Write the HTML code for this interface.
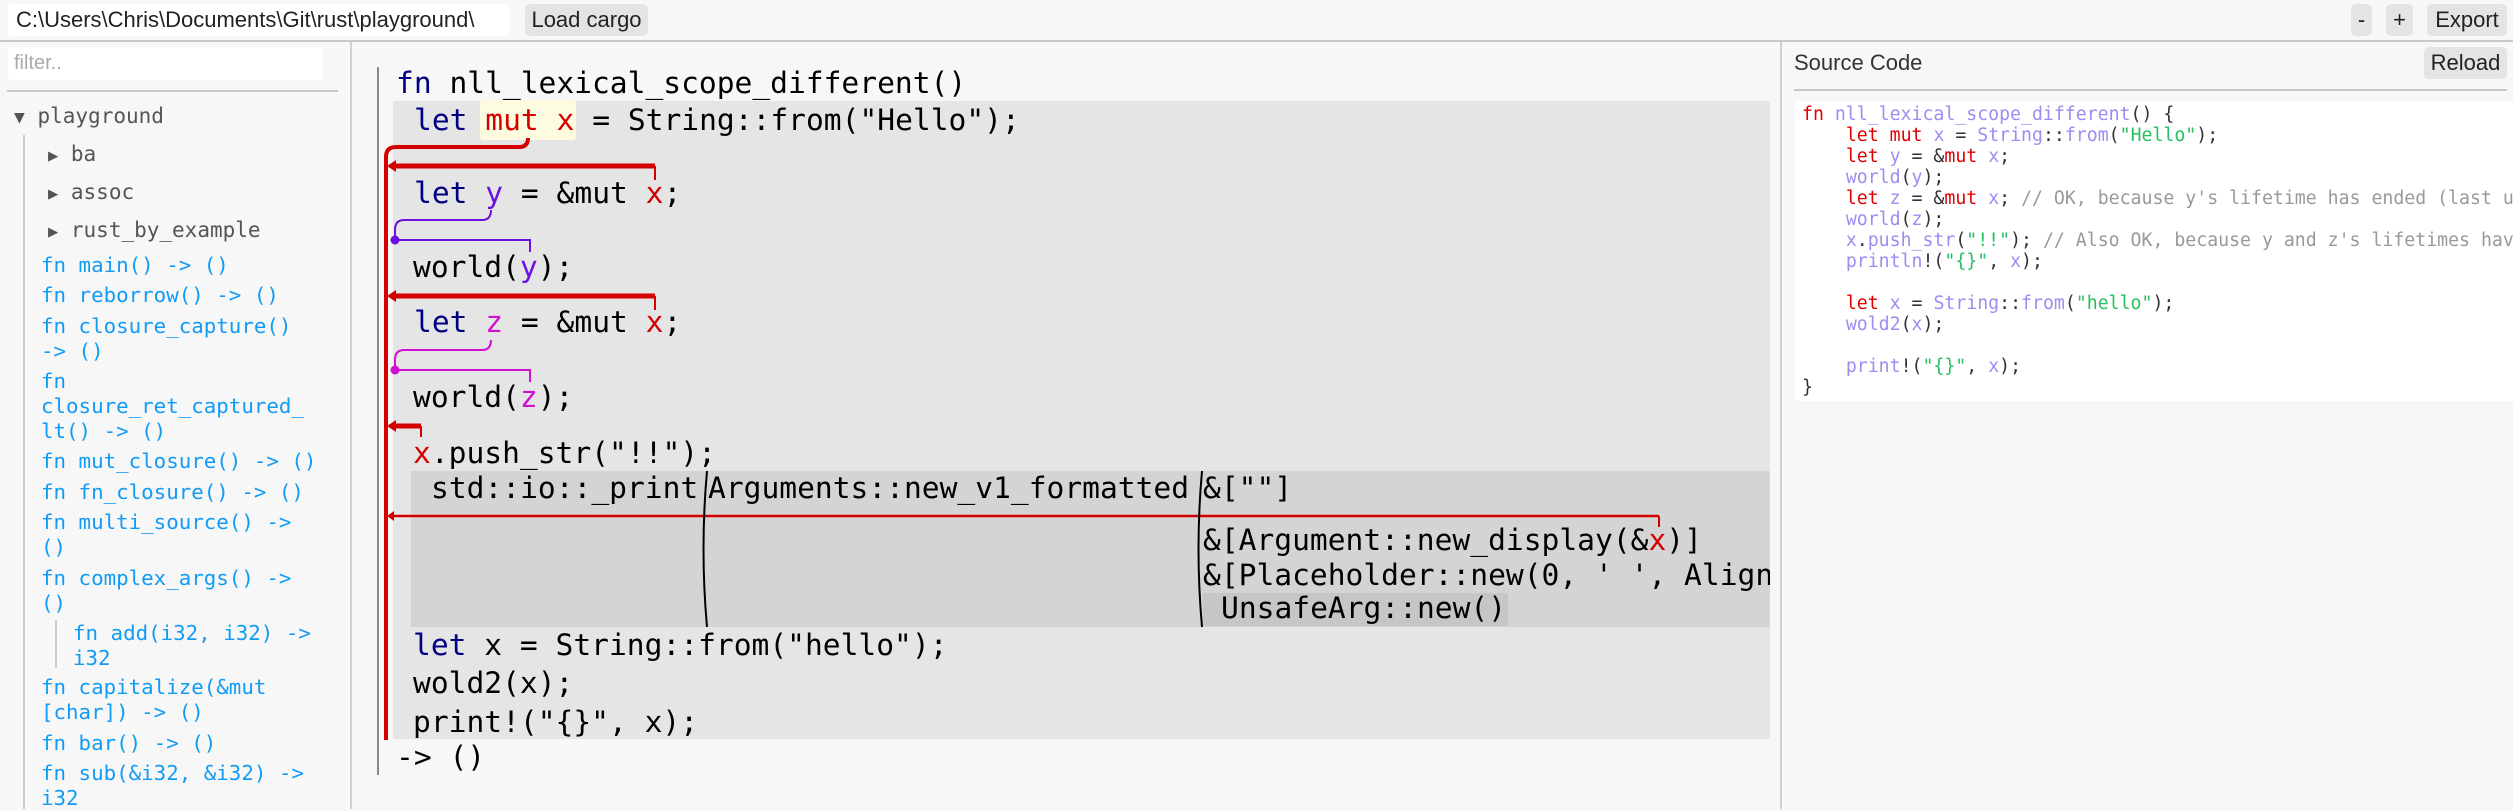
<!DOCTYPE html>
<html><head><meta charset="utf-8"><style>
*{margin:0;padding:0;box-sizing:border-box}
body{width:2513px;height:809px;overflow:hidden;background:#f7f7f7;position:relative;font-family:"Liberation Sans","DejaVu Sans",sans-serif}
.a{position:absolute;white-space:pre}
.btn{position:absolute;background:#e4e4e4;border-radius:5px;font-size:22px;color:#222;text-align:center;line-height:32px;height:32px}
.sb{position:absolute;left:41px;font-family:"DejaVu Sans Mono",monospace;font-size:20.8px;line-height:25px;color:#129bf5;white-space:pre}
.tr{position:absolute;font-family:"DejaVu Sans Mono",monospace;font-size:21px;line-height:25px;color:#555;white-space:pre}
.c{position:absolute;font-family:"DejaVu Sans Mono",monospace;font-size:29.6px;line-height:36px;height:36px;color:#000;white-space:pre}
.k{color:#000080}.r{color:#d40000}.p{color:#6a10e0}.g{color:#d010d0}
.src{position:absolute;left:1802px;font-family:"DejaVu Sans Mono",monospace;font-size:18.2px;line-height:21px;color:#333;white-space:pre}
.sk{color:#e00000}.si{color:#9d8cf2}.ss{color:#25c060}.sc{color:#999}
</style></head><body>
<div class="a" style="left:8px;top:4px;width:502px;height:32px;background:#fff;border-radius:4px;font-size:22px;line-height:32px;padding-left:8px;color:#222">C:\Users\Chris\Documents\Git\rust\playground\</div>
<div class="btn" style="left:525px;top:4px;width:123px">Load cargo</div>
<div class="btn" style="left:2351px;top:4px;width:21px">-</div>
<div class="btn" style="left:2386px;top:4px;width:27px">+</div>
<div class="btn" style="left:2427px;top:4px;width:80px">Export</div>
<div class="a" style="left:0;top:40px;width:2513px;height:2px;background:#c8c8c8"></div>

<div class="a" style="left:8px;top:47px;width:315px;height:33px;background:#fff;border-radius:4px;font-size:20px;line-height:33px;padding-left:6px;color:#aaa">filter..</div>
<div class="a" style="left:7px;top:90px;width:331px;height:2px;background:#c8c8c8"></div>
<div class="a" style="left:350px;top:42px;width:2px;height:767px;background:#d0d0d0"></div>
<div class="a" style="left:23px;top:135px;width:2px;height:674px;background:#ccc"></div>
<div class="a" style="left:55px;top:620px;width:2px;height:48px;background:#ccc"></div>
<div class="tr" style="left:14px;top:104px"><span style="font-size:18px">▼</span> playground</div>
<div class="tr" style="left:48px;top:142px"><span style="font-size:17px">▶</span> ba</div>
<div class="tr" style="left:48px;top:180px"><span style="font-size:17px">▶</span> assoc</div>
<div class="tr" style="left:48px;top:218px"><span style="font-size:17px">▶</span> rust_by_example</div>
<div class="sb" style="top:253px">fn main() -&gt; ()</div>
<div class="sb" style="top:283px">fn reborrow() -&gt; ()</div>
<div class="sb" style="top:314px">fn closure_capture()<br>-&gt; ()</div>
<div class="sb" style="top:369px">fn<br>closure_ret_captured_<br>lt() -&gt; ()</div>
<div class="sb" style="top:449px">fn mut_closure() -&gt; ()</div>
<div class="sb" style="top:480px">fn fn_closure() -&gt; ()</div>
<div class="sb" style="top:510px">fn multi_source() -&gt;<br>()</div>
<div class="sb" style="top:566px">fn complex_args() -&gt;<br>()</div>
<div class="sb" style="left:73px;top:621px">fn add(i32, i32) -&gt;<br>i32</div>
<div class="sb" style="top:675px">fn capitalize(&amp;mut<br>[char]) -&gt; ()</div>
<div class="sb" style="top:731px">fn bar() -&gt; ()</div>
<div class="sb" style="top:761px">fn sub(&amp;i32, &amp;i32) -&gt;<br>i32</div>

<div class="a" style="left:1780px;top:42px;width:2px;height:767px;background:#d0d0d0"></div>
<div class="a" style="left:377px;top:67px;width:2px;height:708px;background:#888"></div>
<div class="a" style="left:393px;top:101px;width:1377px;height:638px;background:#e5e5e5"></div>
<div class="a" style="left:411px;top:471px;width:1359px;height:156px;background:#d4d4d4"></div>
<div class="a" style="left:1203px;top:593px;width:305px;height:33px;background:#c6c6c6;border-radius:2px"></div>
<div class="a" style="left:480px;top:100px;width:96px;height:40px;background:#fdfbe0;border-radius:3px"></div>

<div class="c" style="left:396px;top:65px"><span class="k">fn</span> nll_lexical_scope_different()</div>
<div class="c" style="left:414px;top:102px"><span class="k">let</span> <span class="r">mut x</span> = String::from("Hello");</div>
<div class="c" style="left:414px;top:175px"><span class="k">let</span> <span class="p">y</span> = &amp;mut <span class="r">x</span>;</div>
<div class="c" style="left:413px;top:249px">world(<span class="p">y</span>);</div>
<div class="c" style="left:414px;top:304px"><span class="k">let</span> <span class="g">z</span> = &amp;mut <span class="r">x</span>;</div>
<div class="c" style="left:413px;top:379px">world(<span class="g">z</span>);</div>
<div class="c" style="left:413px;top:435px"><span class="r">x</span>.push_str("!!");</div>
<div class="c" style="left:431px;top:470px">std::io::_print</div>
<div class="c" style="left:708px;top:470px">Arguments::new_v1_formatted</div>
<div class="c" style="left:1203px;top:470px">&amp;[""]</div>
<div class="c" style="left:1203px;top:522px">&amp;[Argument::new_display(&amp;<span class="r">x</span>)]</div>
<div class="c" style="left:1203px;top:557px;width:567px;overflow:hidden">&amp;[Placeholder::new(0, ' ', Alignment::Unknown)]</div>
<div class="c" style="left:1221px;top:590px">UnsafeArg::new()</div>
<div class="c" style="left:413px;top:627px"><span class="k">let</span> x = String::from("hello");</div>
<div class="c" style="left:413px;top:665px">wold2(x);</div>
<div class="c" style="left:413px;top:704px">print!("{}", x);</div>
<div class="c" style="left:396px;top:739px">-&gt; ()</div>

<svg class="a" style="left:0;top:0" width="2513" height="809">
<g fill="none" stroke="#d40000">
<path d="M528,138 Q528,147 519,147 L396,147 Q386,147 386,157 L386,740" stroke-width="4"/>
<path d="M392,166 L655,166" stroke-width="5"/><path d="M655,166 L655,180" stroke-width="2"/>
<path d="M392,296 L655,296" stroke-width="5"/><path d="M655,296 L655,310" stroke-width="2"/>
<path d="M392,426 L421,426" stroke-width="5"/><path d="M421,426 L421,437" stroke-width="2"/>
<path d="M392,516 L1659,516" stroke-width="2.5"/><path d="M1659,516 L1659,527" stroke-width="2"/>
</g>
<g fill="#d40000">
<polygon points="387,166 396,160 396,172"/><polygon points="387,296 396,290 396,302"/>
<polygon points="387,426 396,420 396,432"/><polygon points="387,516 394,511 394,521"/>
</g>
<g fill="none" stroke="#6a10e0" stroke-width="2">
<path d="M491,210 Q491,220 482,220 L404,220 Q395,220 395,230 L395,240"/>
<path d="M395,240 L530,240 L530,252"/>
</g>
<circle cx="395" cy="240" r="4.5" fill="#6a10e0"/>
<g fill="none" stroke="#d010d0" stroke-width="2">
<path d="M491,340 Q491,350 482,350 L404,350 Q395,350 395,360 L395,370"/>
<path d="M395,370 L530,370 L530,382"/>
</g>
<circle cx="395" cy="370" r="4.5" fill="#d010d0"/>
<g fill="none" stroke="#000" stroke-width="2">
<path d="M707,471 Q700,549 707,627"/>
<path d="M1202,471 Q1195,549 1202,627"/>
</g>
</svg>

<div class="a" style="left:1794px;top:47px;font-size:22px;line-height:32px;color:#333">Source Code</div>
<div class="btn" style="left:2424px;top:47px;width:83px">Reload</div>
<div class="a" style="left:1794px;top:89px;width:713px;height:2px;background:#c8c8c8"></div>
<div class="a" style="left:1795px;top:101px;width:718px;height:300px;background:#fff;border-radius:4px 0 0 4px"></div>
<div class="src" style="top:104px;width:711px;overflow:hidden"><span class="sk">fn</span> <span class="si">nll_lexical_scope_different</span>() {
    <span class="sk">let</span> <span class="sk">mut</span> <span class="si">x</span> = <span class="si">String</span>::<span class="si">from</span>(<span class="ss">"Hello"</span>);
    <span class="sk">let</span> <span class="si">y</span> = &amp;<span class="sk">mut</span> <span class="si">x</span>;
    <span class="si">world</span>(<span class="si">y</span>);
    <span class="sk">let</span> <span class="si">z</span> = &amp;<span class="sk">mut</span> <span class="si">x</span>; <span class="sc">// OK, because y's lifetime has ended (last use)</span>
    <span class="si">world</span>(<span class="si">z</span>);
    <span class="si">x</span>.<span class="si">push_str</span>(<span class="ss">"!!"</span>); <span class="sc">// Also OK, because y and z's lifetimes have ended</span>
    <span class="si">println</span>!(<span class="ss">"{}"</span>, <span class="si">x</span>);

    <span class="sk">let</span> <span class="si">x</span> = <span class="si">String</span>::<span class="si">from</span>(<span class="ss">"hello"</span>);
    <span class="si">wold2</span>(<span class="si">x</span>);

    <span class="si">print</span>!(<span class="ss">"{}"</span>, <span class="si">x</span>);
}</div>
</body></html>
